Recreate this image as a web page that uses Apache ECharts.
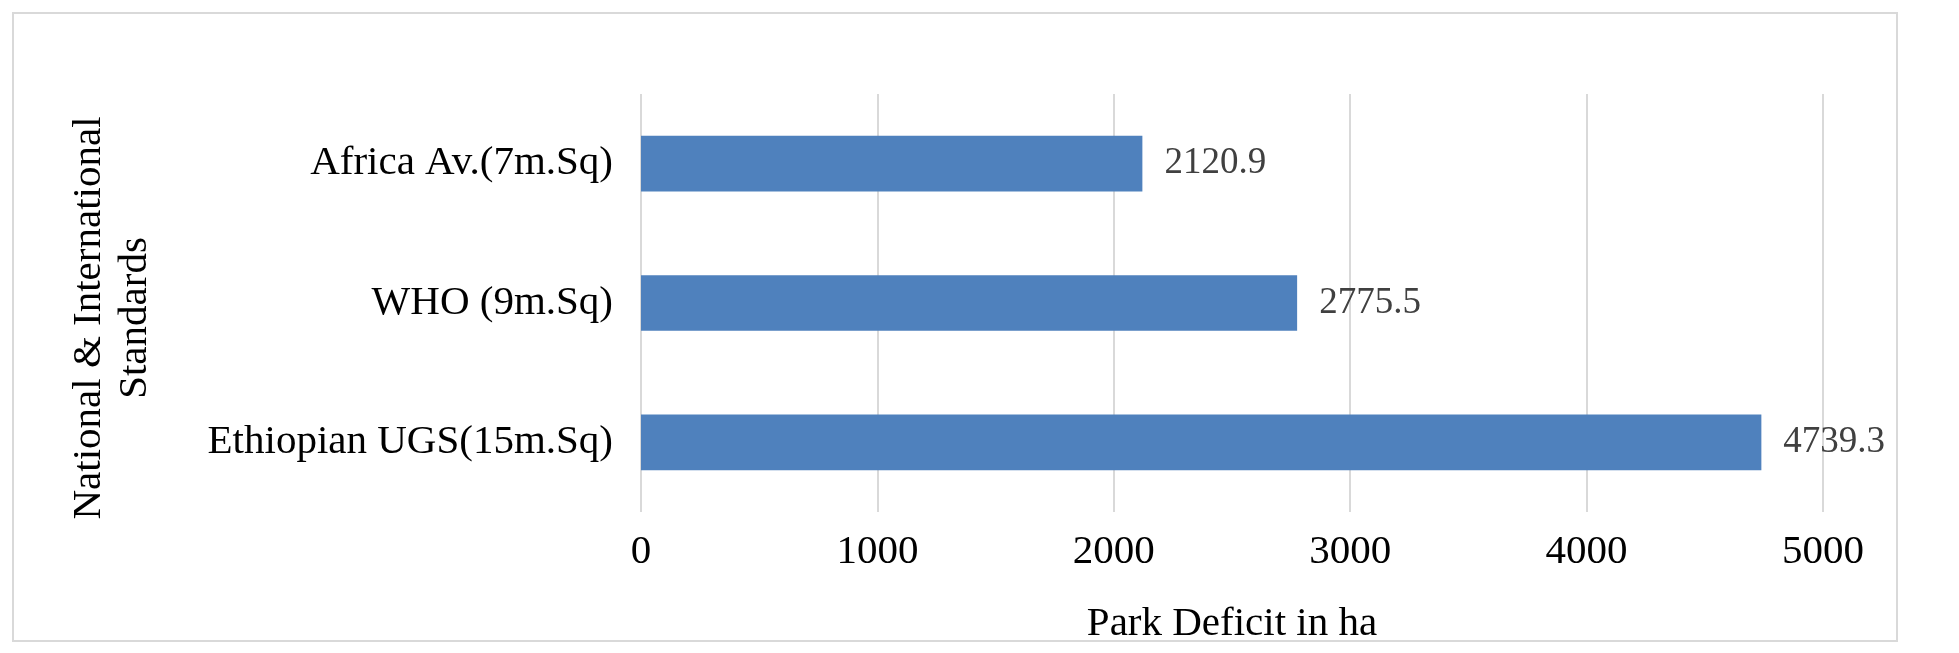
<!DOCTYPE html>
<html><head><meta charset="utf-8">
<script src="https://cdn.jsdelivr.net/npm/echarts@6/dist/echarts.min.js"></script>
<style>html,body{margin:0;background:#fff}#c{width:1959px;height:653px}
#frame{position:absolute;left:12px;top:12px;width:1886px;height:630px;border:2px solid #d9d9d9;box-sizing:border-box;pointer-events:none}</style>
</head><body><div id="c"></div><div id="frame"></div>
<script>
var categories = ['Ethiopian UGS(15m.Sq)', 'WHO (9m.Sq)', 'Africa Av.(7m.Sq)'];
var values = [4739.3, 2775.5, 2120.9];
var font = '"Liberation Serif", "DejaVu Serif", serif';
var myChart = echarts.init(document.getElementById('c'));
var option = {
	animation: false,
	grid: { left: 641, right: 136, top: 94, bottom: 141 },
	xAxis: {
		type: 'value', min: 0, max: 5000, interval: 1000,
		axisLine: { show: false }, axisTick: { show: false },
		splitLine: { lineStyle: { color: '#d9d9d9', width: 2 } },
		axisLabel: { fontFamily: font, fontSize: 41, color: '#000', margin: 20, formatter: function (v) { return String(v); } },
		name: 'Park Deficit in ha', nameLocation: 'middle', nameGap: 92,
		nameTextStyle: { fontFamily: font, fontSize: 41, color: '#000' }
	},
	yAxis: {
		type: 'category', data: categories,
		axisLine: { show: false }, axisTick: { show: false },
		axisLabel: { fontFamily: font, fontSize: 41, color: '#000', margin: 28 }
	},
	graphic: [{
		type: 'text', rotation: Math.PI / 2,
		style: { text: 'National & International\nStandards', fontFamily: font, fontSize: 41, fill: '#000', textAlign: 'center', textVerticalAlign: 'middle', lineHeight: 46 },
		x: 112, y: 318
	}],
	series: [{
		type: 'bar', data: values, barCategoryGap: '60%',
		itemStyle: { color: '#4f81bd' },
		label: { show: true, position: 'right', distance: 22, fontFamily: font, fontSize: 37, color: '#404040' }
	}]
};
myChart.setOption(option);
</script></body></html>
